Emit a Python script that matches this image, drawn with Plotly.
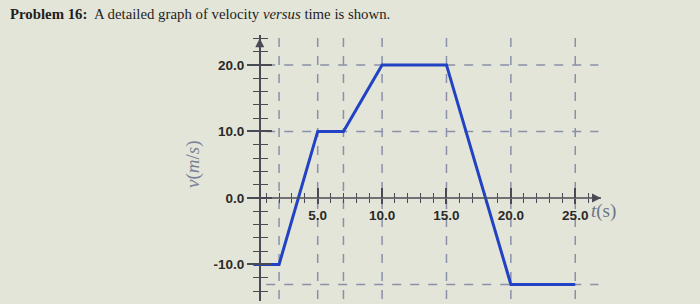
import plotly.graph_objects as go

# ---- data ----
t_vals = [0, 2, 5, 7, 10, 15, 20, 25]
v_vals = [-10, -10, 10, 10, 20, 20, -13, -13]
grid_t = [2, 5, 7, 10, 15, 20, 25]
grid_v = [20, 10, -13]
x_ticks = [5, 10, 15, 20, 25]
x_labels = ["5.0", "10.0", "15.0", "20.0", "25.0"]
y_ticks = [-10, 0, 10, 20]
y_labels = ["-10.0", "0.0", "10.0", "20.0"]
x_minor = list(range(1, 27))

XR = [-1.5, 27]
YR = [-15.5, 24.5]
YAXIS_AT = 0.5
xpos_y = (0 - YR[0]) / (YR[1] - YR[0])
ypos_x = (YAXIS_AT - XR[0]) / (XR[1] - XR[0])

PW, PH = 367, 266
ML, MT = 234, 35

BG = "#e3e5d8"
AX = "#4a4a55"
GRID = "#8a90aa"

fig = go.Figure()
fig.add_trace(go.Scatter(x=t_vals, y=v_vals, mode="lines",
                         line=dict(color="#2242c4", width=3), hoverinfo="skip"))
# invisible traces to attach overlay axes
fig.add_trace(go.Scatter(x=[0], y=[0], xaxis="x2", yaxis="y", mode="markers",
                         marker=dict(opacity=0), hoverinfo="skip"))
fig.add_trace(go.Scatter(x=[0], y=[0], xaxis="x", yaxis="y2", mode="markers",
                         marker=dict(opacity=0), hoverinfo="skip"))

shapes = []
for g in grid_t:
    shapes.append(dict(type="line", xref="x", yref="y", x0=g, x1=g, y0=YR[0] + 0.3, y1=YR[1],
                       line=dict(color=GRID, width=1.5, dash="dash"), layer="below"))
for g in grid_v:
    shapes.append(dict(type="line", xref="x", yref="y", x0=1.0, x1=26.8, y0=g, y1=g,
                       line=dict(color=GRID, width=1.5, dash="dash"), layer="below"))
# x axis line (starting at the y axis)
shapes.append(dict(type="line", xref="x", yref="y", x0=-0.2, x1=XR[1], y0=0, y1=0,
                   line=dict(color=AX, width=1.5), layer="above"))

common_font = dict(family="Liberation Sans, Arial", size=13.5, color="#2a2a2a")

fig.update_layout(
    width=700, height=304,
    margin=dict(l=ML, r=700 - ML - PW, t=MT, b=304 - MT - PH),
    paper_bgcolor=BG, plot_bgcolor=BG,
    showlegend=False,
    shapes=shapes,
    xaxis=dict(range=XR, anchor="free", position=xpos_y, showgrid=False, zeroline=False,
               showline=False,
               tickvals=x_ticks, ticktext=[f"<b>{s}</b>" for s in x_labels],
               ticks="outside", ticklen=5, tickcolor=AX, tickwidth=1.5,
               tickfont=common_font,
               minor=dict(tickvals=x_minor, ticks="outside", ticklen=4, tickcolor=AX, tickwidth=1)),
    xaxis2=dict(range=XR, overlaying="x", anchor="free", position=xpos_y, showgrid=False,
                zeroline=False, showline=False, showticklabels=False,
                tickvals=x_ticks, ticks="inside", ticklen=10, tickcolor=AX, tickwidth=1.5,
                minor=dict(tickvals=x_minor, ticks="inside", ticklen=5, tickcolor=AX, tickwidth=1)),
    yaxis=dict(range=YR, anchor="free", position=ypos_x, showgrid=False, zeroline=False,
               showline=True, linecolor=AX, linewidth=1.5,
               tickvals=y_ticks, ticktext=[f"<b>{s}</b>" for s in y_labels],
               ticks="outside", ticklen=12, tickcolor=AX, tickwidth=1.5,
               tickfont=common_font,
               minor=dict(dtick=2, tick0=0, ticks="outside", ticklen=6, tickcolor=AX, tickwidth=1)),
    yaxis2=dict(range=YR, overlaying="y", anchor="free", position=ypos_x, showgrid=False,
                zeroline=False, showline=False, showticklabels=False,
                tickvals=y_ticks, ticks="inside", ticklen=11, tickcolor=AX, tickwidth=1.5,
                minor=dict(dtick=2, tick0=0, ticks="inside", ticklen=7, tickcolor=AX, tickwidth=1)),
)


def px(xp):
    return (xp - ML) / PW


def py(yp):
    return 1 - (yp - MT) / PH


annotations = [
    dict(xref="paper", yref="paper", x=px(8), y=py(14), xanchor="left", yanchor="middle",
         text="<b>Problem 16:</b>  A detailed graph of velocity <i>versus</i> time is shown.",
         showarrow=False, font=dict(family="Liberation Serif, serif", size=14.8, color="#1e1e1e")),
    dict(xref="x", yref="y", x=XR[1], y=0, ax=XR[1] - 0.6, ay=0, axref="x", ayref="y",
         showarrow=True, arrowhead=2, arrowsize=1.2, arrowwidth=1.5, arrowcolor=AX, text=""),
    dict(xref="x", yref="y", x=YAXIS_AT, y=YR[1] - 0.5, ax=YAXIS_AT, ay=YR[1] - 2.5, axref="x", ayref="y",
         showarrow=True, arrowhead=2, arrowsize=1.2, arrowwidth=1.5, arrowcolor=AX, text=""),
    dict(xref="paper", yref="paper", x=px(180), y=py(164), text="<i>v</i>(<i>m</i>/<i>s</i>)", textangle=-90,
         showarrow=False, font=dict(family="Liberation Serif, serif", size=19, color="#7a8298")),
    dict(xref="paper", yref="paper", x=px(618), y=py(211), text="<i>t</i>(s)",
         showarrow=False, font=dict(family="Liberation Serif, serif", size=19, color="#6e7488")),
]
fig.update_layout(annotations=annotations)

fig.write_html("out.html")
